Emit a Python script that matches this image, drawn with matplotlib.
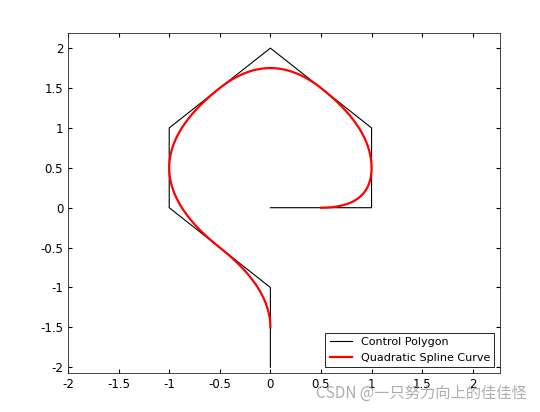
import numpy as np
import matplotlib.pyplot as plt

# control polygon vertices
px = [0, 1, 1, 0, -1, -1, 0, 0]
py = [0, 0, 1, 2, 1, 0, -1, -2]

# uniform quadratic B-spline from the control points
P = np.column_stack([px, py]).astype(float)
t = np.linspace(0, 1, 100)
segs = []
for i in range(len(P) - 2):
    b0 = 0.5 * (1 - t) ** 2
    b1 = 0.5 + t - t ** 2
    b2 = 0.5 * t ** 2
    segs.append(np.outer(b0, P[i]) + np.outer(b1, P[i + 1]) + np.outer(b2, P[i + 2]))
curve = np.vstack(segs)

fig = plt.figure(figsize=(5.4, 4.12), dpi=100)
ax = fig.add_axes([0.126, 0.095, 0.8, 0.825])
ax.plot(px, py, c='k', lw=0.8, label='Control Polygon')
ax.plot(curve[:, 0], curve[:, 1], c='r', lw=1.6, label='Quadratic Spline Curve')
ax.set_xlim(-2, 2.27)
ax.set_ylim(-2.07, 2.19)
ax.set_xticks(np.arange(-2, 2.01, 0.5))
ax.set_yticks(np.arange(-2, 2.01, 0.5))
ax.set_xticklabels(['-2', '-1.5', '-1', '-0.5', '0', '0.5', '1', '1.5', '2'])
ax.set_yticklabels(['-2', '-1.5', '-1', '-0.5', '0', '0.5', '1', '1.5', '2'])
ax.tick_params(direction='in', top=True, right=True, labelsize=8.5, length=3)
for s in ax.spines.values():
    s.set_linewidth(0.6)
    s.set_color('#262626')
leg = ax.legend(loc='lower right', fontsize=8, fancybox=False, edgecolor='k', framealpha=1)
leg.get_frame().set_linewidth(0.6)

fig.text(0.975, 0.025, 'CSDN @一只努力向上的佳佳怪', ha='right', va='bottom', fontsize=11,
         color='#999999', alpha=0.8, family=['Noto Sans CJK SC', 'DejaVu Sans'])
fig.savefig('out.png', dpi=100)
